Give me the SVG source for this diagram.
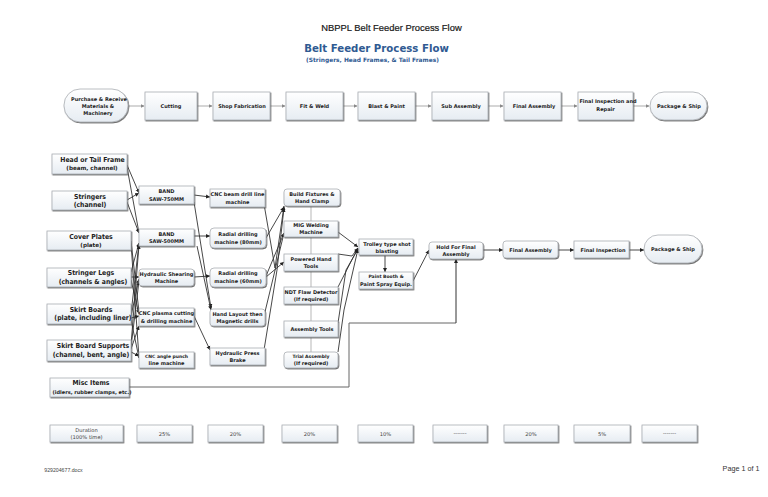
<svg xmlns="http://www.w3.org/2000/svg" width="768" height="497" viewBox="0 0 768 497">
<style>
text{font-family:"DejaVu Sans",sans-serif;font-weight:bold;text-anchor:middle;fill:#222}
.b{fill:url(#g);stroke:#a9adb2;stroke-width:.8;filter:url(#s)}
.t5{font-size:5px}.t6{font-size:5.6px}.t4{font-size:4.5px}
.t7{font-size:6.8px;font-family:"DejaVu Sans Condensed","DejaVu Sans",sans-serif}
.d{font-weight:normal;fill:#444;font-size:5.2px}
.c{fill:none;stroke:#333;stroke-width:.9}
.a{fill:none;stroke:#333;stroke-width:.9;marker-end:url(#m)}
.top{fill:none;stroke:#888;stroke-width:.7;marker-end:url(#mg)}
.v{fill:none;stroke:#999;stroke-width:.7}
.h{fill:none;stroke:#666;stroke-width:1}
</style>
<defs>
<linearGradient id="g" x1="0" y1="0" x2="0" y2="1"><stop offset="0" stop-color="#fff"/><stop offset="1" stop-color="#e6ecf2"/></linearGradient>
<filter id="s" x="-10%" y="-20%" width="125%" height="150%"><feDropShadow dx="0.8" dy="1" stdDeviation="0.5" flood-color="#444" flood-opacity=".8"/></filter>
<marker id="m" markerWidth="5" markerHeight="5" refX="4" refY="2.5" orient="auto" markerUnits="userSpaceOnUse"><path d="M0,0.5L4,2.5L0,4.5z" fill="#222"/></marker>
<marker id="mg" markerWidth="5" markerHeight="5" refX="3" refY="2.5" orient="auto" markerUnits="userSpaceOnUse"><path d="M0,0.7L3.5,2.5L0,4.3z" fill="#888"/></marker>
</defs>

<text x="391.500" y="30.500" style="font-family:'Liberation Sans',Arial,sans-serif;font-size:9.400px;font-weight:normal;stroke:#111;stroke-width:.2">NBPPL Belt Feeder Process Flow</text>
<text x="376.500" y="52" style="font-size:10.200px;fill:#2f5a92">Belt Feeder Process Flow</text>
<text x="372.500" y="62" style="font-size:5.900px;fill:#2f5a92">(Stringers, Head Frames, &amp; Tail Frames)</text>
<text x="63.500" y="472" style="font-family:'Liberation Sans',Arial,sans-serif;font-size:5.200px;font-weight:normal;fill:#444">929204677.docx</text>
<text x="741" y="471" style="font-family:'Liberation Sans',Arial,sans-serif;font-size:7.200px;font-weight:normal;fill:#333">Page 1 of 1</text>

<g id="connectors">
<path class="top" d="M128,106H144"/><path class="top" d="M197,106H212"/><path class="top" d="M270,106H285"/><path class="top" d="M343,106H357"/><path class="top" d="M415,106H431"/><path class="top" d="M488,106H503"/><path class="top" d="M561,106H577"/><path class="top" d="M633,106H649"/>
<path class="v" d="M311,206V352"/>
<path class="a" d="M127,165L139,193"/><path class="a" d="M127,167L139,233"/>
<path class="a" d="M127,200L139,193"/><path class="a" d="M127,202L139,233"/>
<path class="a" d="M131,241L139,312"/><path class="a" d="M131,243L139,358"/>
<path class="a" d="M131,272L139,243"/><path class="a" d="M131,277L139,277"/><path class="a" d="M131,280L139,314"/>
<path class="a" d="M131,314L139,243"/><path class="a" d="M131,316L139,279"/><path class="a" d="M131,318L139,316"/><path class="a" d="M131,320L139,358"/>
<path class="a" d="M131,345L139,245"/><path class="a" d="M131,347L139,281"/><path class="a" d="M131,349L139,326"/><path class="a" d="M131,352L139,356"/>
<path class="a" d="M194,195L210,197"/><path class="a" d="M194,202L211,308"/>
<path class="a" d="M194,236L210,236"/><path class="a" d="M197,246L211,310"/>
<path class="a" d="M194,277L210,276"/><path class="a" d="M194,316L210,350"/>
<path class="a" d="M264,204L275,268L284,206"/>
<path class="a" d="M266,238L284,207"/><path class="a" d="M266,277L284,262"/><path class="a" d="M266,276L284,233"/>
<path class="a" d="M264,316L284,233"/><path class="a" d="M264,350L277,270L284,208"/>
<path class="a" d="M338,232L358,247"/>
<path class="a" d="M338,254L352,256L358,248"/>
<path class="a" d="M338,287L358,248"/>
<path class="a" d="M338,323L346,270L358,249"/>
<path class="a" d="M338,352L344,310L358,249"/>
<path class="a" d="M385,255V272"/>
<path class="a" d="M413,281L429,250"/>
<path class="a" d="M483,250H503"/><path class="a" d="M558,250H574"/><path class="a" d="M629,250H644"/>
<path class="h" d="M129,387H349V323H456"/>
<path class="a" style="stroke-width:1" d="M456,323V259"/>
</g>

<g id="n-purchase"><rect class="b" x="64" y="89" width="64" height="33" rx="16" ry="16"/><text class="t5" x="99" y="101">Purchase &amp; Receive</text><text class="t5" x="98" y="108">Materials &amp;</text><text class="t5" x="98" y="115">Machinery</text></g>
<g id="n-cutting"><rect class="b" x="145" y="92" width="52" height="28"/><text class="t5" x="171" y="108">Cutting</text></g>
<g id="n-shop"><rect class="b" x="213" y="92" width="57" height="28"/><text class="t5" x="242" y="108">Shop Fabrication</text></g>
<g id="n-fit"><rect class="b" x="286" y="92" width="57" height="28"/><text class="t5" x="314.500" y="108">Fit &amp; Weld</text></g>
<g id="n-blast"><rect class="b" x="358" y="92" width="57" height="28"/><text class="t5" x="386.500" y="108">Blast &amp; Paint</text></g>
<g id="n-sub"><rect class="b" x="432" y="92" width="56" height="28"/><text class="t5" x="461" y="108">Sub Assembly</text></g>
<g id="n-final"><rect class="b" x="504" y="92" width="57" height="28"/><text class="t5" x="534" y="108">Final Assembly</text></g>
<g id="n-insp"><rect class="b" x="578" y="92" width="55" height="28"/><text class="t5" x="608" y="103">Final Inspection and</text><text class="t5" x="605.500" y="111">Repair</text></g>
<g id="n-pack"><rect class="b" x="650" y="92" width="57" height="28" rx="14" ry="14"/><text class="t5" x="679" y="108">Package &amp; Ship</text></g>

<g id="n-head"><rect class="b" x="52" y="154" width="75" height="20"/><text class="t7" x="92.500" y="161.500">Head or Tail Frame</text><text class="t6" x="92" y="170">(beam, channel)</text></g>
<g id="n-stringers"><rect class="b" x="52" y="191" width="75" height="19"/><text class="t7" x="90" y="198.500">Stringers</text><text class="t7" x="90" y="207">(channel)</text></g>
<g id="n-cover"><rect class="b" x="47" y="231" width="84" height="19"/><text class="t7" x="91" y="238.500">Cover Plates</text><text class="t6" x="91" y="247">(plate)</text></g>
<g id="n-legs"><rect class="b" x="47" y="268" width="84" height="19"/><text class="t7" x="91" y="275">Stringer Legs</text><text class="t7" x="93" y="283.500">(channels &amp; angles)</text></g>
<g id="n-skirt"><rect class="b" x="47" y="304" width="84" height="20"/><text class="t7" x="91" y="311.500">Skirt Boards</text><text class="t7" x="93" y="320">(plate, including liner)</text></g>
<g id="n-supports"><rect class="b" x="47" y="340" width="84" height="21"/><text class="t7" x="93" y="348">Skirt Board Supports</text><text class="t7" x="91" y="356.500">(channel, bent, angle)</text></g>
<g id="n-misc"><rect class="b" x="50" y="378" width="79" height="19"/><text class="t7" x="91" y="385">Misc Items</text><text class="t5" x="92" y="393.500">(idlers, rubber clamps, etc.)</text></g>

<g id="n-band1"><rect class="b" x="139" y="186" width="55" height="18"/><text class="t5" x="166.500" y="193">BAND</text><text class="t5" x="166.500" y="200.500">SAW-750MM</text></g>
<g id="n-band2"><rect class="b" x="139" y="229" width="55" height="17"/><text class="t5" x="166.500" y="235.500">BAND</text><text class="t5" x="166.500" y="243">SAW-500MM</text></g>
<g id="n-shear"><rect class="b" x="139" y="269" width="55" height="17" rx="3"/><text class="t5" x="166.500" y="275.500">Hydraulic Shearing</text><text class="t5" x="166.500" y="283">Machine</text></g>
<g id="n-plasma"><rect class="b" x="139" y="308" width="55" height="18"/><text class="t5" x="166.500" y="315">CNC plasma cutting</text><text class="t5" x="166.500" y="322.500">&amp; drilling machine</text></g>
<g id="n-angle"><rect class="b" x="139" y="352" width="55" height="16"/><text class="t4" x="166.500" y="358">CNC angle punch</text><text class="t5" x="166.500" y="365">line machine</text></g>

<g id="n-beam"><rect class="b" x="210" y="189" width="55" height="18"/><text class="t5" x="237.500" y="196">CNC beam drill line</text><text class="t5" x="237.500" y="203.500">machine</text></g>
<g id="n-radial1"><rect class="b" x="210" y="228" width="56" height="20" rx="4"/><text class="t5" x="238" y="235.500">Radial drilling</text><text class="t5" x="238" y="243.500">machine (80mm)</text></g>
<g id="n-radial2"><rect class="b" x="210" y="268" width="56" height="19" rx="4"/><text class="t5" x="238" y="275">Radial drilling</text><text class="t5" x="238" y="283">machine (60mm)</text></g>
<g id="n-layout"><rect class="b" x="210" y="309" width="55" height="17" rx="3"/><text class="t5" x="237.500" y="315.500">Hand Layout then</text><text class="t5" x="237.500" y="323">Magnetic drills</text></g>
<g id="n-press"><rect class="b" x="210" y="348" width="55" height="17"/><text class="t5" x="237.500" y="354.500">Hydraulic Press</text><text class="t5" x="237.500" y="362">Brake</text></g>

<g id="n-build"><rect class="b" x="284" y="189" width="56" height="17" rx="3"/><text class="t5" x="312" y="195.500">Build Fixtures &amp;</text><text class="t5" x="312" y="203">Hand Clamp</text></g>
<g id="n-mig"><rect class="b" x="284" y="221" width="54" height="16"/><text class="t5" x="311" y="227">MIG Welding</text><text class="t5" x="311" y="234">Machine</text></g>
<g id="n-powered"><rect class="b" x="284" y="254" width="54" height="17"/><text class="t5" x="311" y="260.500">Powered Hand</text><text class="t5" x="311" y="268">Tools</text></g>
<g id="n-ndt"><rect class="b" x="284" y="287" width="54" height="17"/><text class="t5" x="311" y="293.500">NDT Flaw Detector</text><text class="t5" x="311" y="301">(If required)</text></g>
<g id="n-tools"><rect class="b" x="284" y="321" width="54" height="16"/><text class="t5" x="312" y="330.500">Assembly Tools</text></g>
<g id="n-trial"><rect class="b" x="284" y="352" width="54" height="16" rx="3"/><text class="t4" x="311" y="357.800">Trial Assembly</text><text class="t5" x="311" y="365">(If required)</text></g>

<g id="n-trolley"><rect class="b" x="359" y="239" width="54" height="16"/><text class="t5" x="387" y="245.500">Trolley type shot</text><text class="t5" x="387" y="252.500">blasting</text></g>
<g id="n-booth"><rect class="b" x="359" y="272" width="54" height="17"/><text class="t4" x="386" y="278">Paint Booth &amp;</text><text class="t5" x="386" y="285.500">Paint Spray Equip.</text></g>
<g id="n-hold"><rect class="b" x="429" y="242" width="54" height="17" rx="3"/><text class="t5" x="456" y="248.500">Hold For Final</text><text class="t5" x="456" y="256">Assembly</text></g>
<g id="n-final2"><rect class="b" x="503" y="241" width="55" height="17" rx="3"/><text class="t5" x="530.500" y="251.500">Final Assembly</text></g>
<g id="n-insp2"><rect class="b" x="574" y="241" width="55" height="17"/><text class="t5" x="603" y="251.500">Final Inspection</text></g>
<g id="n-pack2"><rect class="b" x="644" y="235" width="58" height="28" rx="14" ry="14"/><text class="t5" x="673" y="251">Package &amp; Ship</text></g>

<g id="n-duration"><rect class="b" x="50" y="425" width="73" height="17"/><text class="d" x="86.500" y="431.500">Duration</text><text class="d" x="86.500" y="439">(100% time)</text></g>
<g id="n-d1"><rect class="b" x="137" y="425" width="55" height="17"/><text class="d" x="164.500" y="435.500">25%</text></g>
<g id="n-d2"><rect class="b" x="208" y="425" width="55" height="17"/><text class="d" x="235.500" y="435.500">20%</text></g>
<g id="n-d3"><rect class="b" x="282" y="425" width="55" height="17"/><text class="d" x="309.500" y="435.500">20%</text></g>
<g id="n-d4"><rect class="b" x="358" y="425" width="55" height="17"/><text class="d" x="385.500" y="435.500">10%</text></g>
<g id="n-d5"><rect class="b" x="433" y="425" width="54" height="17"/><text class="d" x="460" y="435">-------</text></g>
<g id="n-d6"><rect class="b" x="504" y="425" width="54" height="17"/><text class="d" x="531" y="435.500">20%</text></g>
<g id="n-d7"><rect class="b" x="574" y="425" width="56" height="17"/><text class="d" x="602" y="435.500">5%</text></g>
<g id="n-d8"><rect class="b" x="642" y="425" width="55" height="17"/><text class="d" x="669.500" y="435">-------</text></g>
</svg>
